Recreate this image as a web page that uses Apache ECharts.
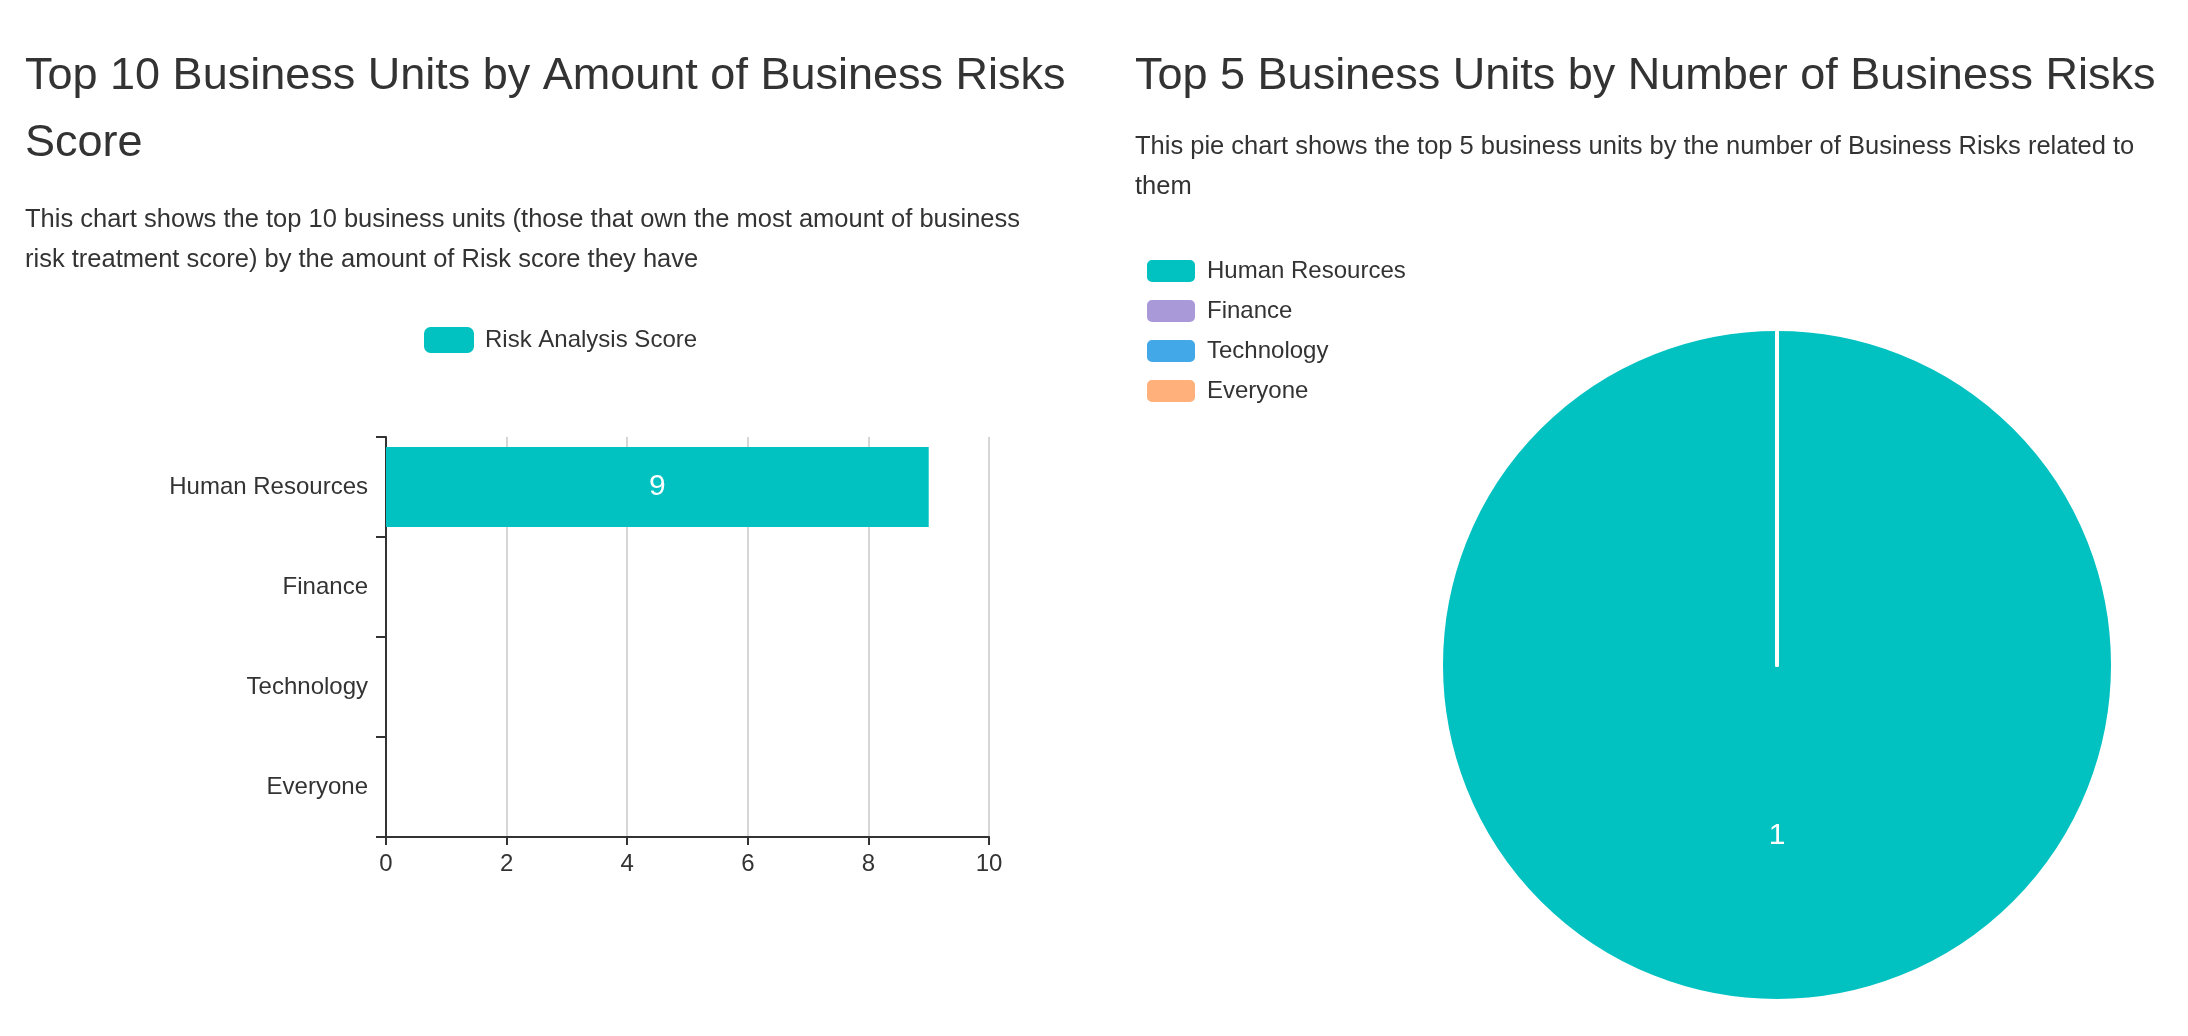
<!DOCTYPE html>
<html>
<head>
<meta charset="utf-8">
<script src="https://cdn.jsdelivr.net/npm/echarts@6/dist/echarts.min.js"></script>
<style>
  html, body { margin: 0; padding: 0; background: #fff; }
  #chart { width: 2188px; height: 1036px; }
</style>
</head>
<body>
<div id="chart"></div>
<script>
// ---- data ----
const barTitle = 'Top 10 Business Units by Amount of Business Risks\nScore';
const barDescription = 'This chart shows the top 10 business units (those that own the most amount of business\nrisk treatment score) by the amount of Risk score they have';
const pieTitle = 'Top 5 Business Units by Number of Business Risks';
const pieDescription = 'This pie chart shows the top 5 business units by the number of Business Risks related to\nthem';
const barSeriesName = 'Risk Analysis Score';
const businessUnits = ['Human Resources', 'Finance', 'Technology', 'Everyone'];
const riskScores = [9, 0, 0, 0];
const riskCounts = [1, 0, 0, 0];
const xTicks = [0, 2, 4, 6, 8, 10];
const unitColors = ['#02C1C1', '#AA99D8', '#42A8E7', '#FFB07B'];

const FONT = '"Liberation Sans", Arial, Helvetica, sans-serif';
const TEXT = '#333333';

const chart = echarts.init(document.getElementById('chart'), null, { renderer: 'canvas' });

const option = {
  backgroundColor: '#ffffff',
  animation: false,
  textStyle: { fontFamily: FONT, color: TEXT },
  title: [
    {
      text: barTitle,
      subtext: barDescription,
      left: 25, top: 43, padding: 0, itemGap: 23,
      textStyle: { fontFamily: FONT, fontSize: 45, fontWeight: 'normal', color: TEXT, lineHeight: 67 },
      subtextStyle: { fontFamily: FONT, fontSize: 25.5, color: TEXT, lineHeight: 40 }
    },
    {
      text: pieTitle,
      subtext: pieDescription,
      left: 1135, top: 43, padding: 0, itemGap: 17,
      textStyle: { fontFamily: FONT, fontSize: 45, fontWeight: 'normal', color: TEXT, lineHeight: 67 },
      subtextStyle: { fontFamily: FONT, fontSize: 25.5, color: TEXT, lineHeight: 40 }
    }
  ],
  legend: [
    {
      data: [barSeriesName],
      left: 424, top: 327, padding: 0,
      itemWidth: 50, itemHeight: 26, icon: 'roundRect',
      textStyle: { fontFamily: FONT, fontSize: 24, color: TEXT, padding: [0, 0, 0, 6] },
      selectedMode: false
    },
    {
      data: businessUnits,
      orient: 'vertical',
      left: 1145, top: 258, padding: 0,
      itemWidth: 50, itemHeight: 24, itemGap: 14, icon: 'roundRect',
      textStyle: { fontFamily: FONT, fontSize: 24, color: TEXT, padding: [0, 0, 0, 6] },
      selectedMode: false
    }
  ],
  grid: { left: 386, right: 2188 - 989, top: 437, bottom: 1036 - 837, containLabel: false },
  xAxis: {
    type: 'value',
    min: xTicks[0], max: xTicks[xTicks.length - 1], interval: xTicks[1] - xTicks[0],
    axisLine: { show: true, lineStyle: { color: '#333', width: 2 } },
    axisTick: { show: true, length: 8, lineStyle: { color: '#333', width: 2 } },
    axisLabel: { fontFamily: FONT, fontSize: 24, color: TEXT, margin: 15 },
    splitLine: { show: true, lineStyle: { color: '#c8c8c8', width: 1.5 } }
  },
  yAxis: {
    type: 'category',
    data: businessUnits,
    inverse: true,
    axisLine: { show: true, lineStyle: { color: '#333', width: 2 } },
    axisTick: { show: true, length: 10, lineStyle: { color: '#333', width: 2 } },
    axisLabel: { fontFamily: FONT, fontSize: 24, color: TEXT, margin: 18 },
    splitLine: { show: false }
  },
  series: [
    {
      name: barSeriesName,
      type: 'bar',
      data: riskScores,
      barCategoryGap: '20%',
      itemStyle: { color: unitColors[0] },
      label: {
        show: true, position: 'inside', color: '#fff', fontFamily: FONT, fontSize: 30,
        formatter: p => (p.value ? String(p.value) : '')
      }
    },
    {
      name: 'Business Units',
      type: 'pie',
      center: [1777, 665],
      radius: 336,
      startAngle: 90,
      clockwise: true,
      data: businessUnits.map((n, i) => ({ name: n, value: riskCounts[i], itemStyle: { color: unitColors[i] } })),
      itemStyle: { borderColor: '#fff', borderWidth: 4 },
      label: {
        show: true, position: 'inside', color: '#fff', fontFamily: FONT, fontSize: 30,
        formatter: p => (p.value ? String(p.value) : '')
      },
      labelLine: { show: false },
      emphasis: { disabled: true }
    }
  ]
};

chart.setOption(option);
</script>
</body>
</html>
